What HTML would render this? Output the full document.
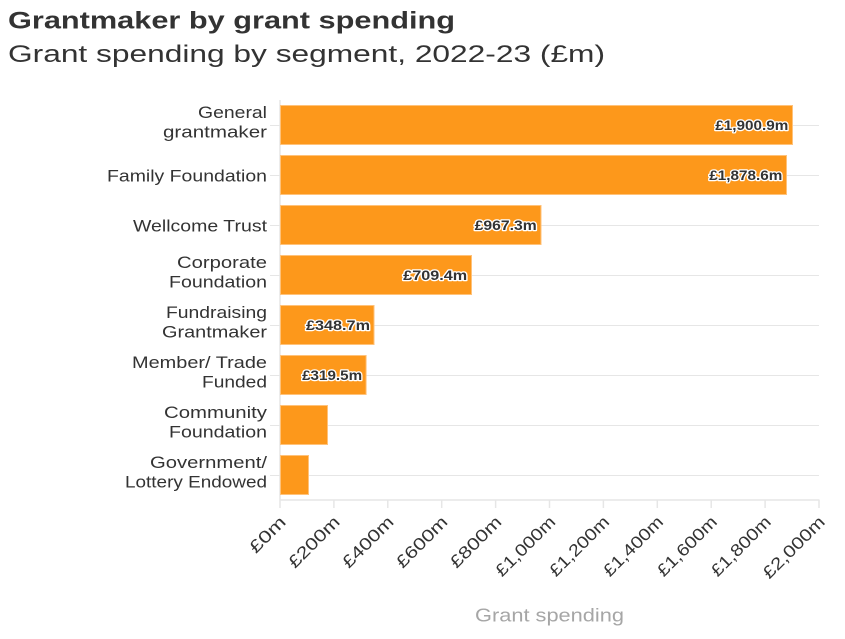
<!DOCTYPE html>
<html>
<head>
<meta charset="utf-8">
<style>
  html, body { margin:0; padding:0; background:#ffffff; }
  svg { display:block; font-family:"Liberation Sans", Arial, sans-serif; }
</style>
</head>
<body>
<svg width="845" height="639" viewBox="0 0 845 639" xmlns="http://www.w3.org/2000/svg">
  <rect x="0" y="0" width="845" height="639" fill="#ffffff"/>

  <!-- Titles -->
  <text x="8" y="28.5" font-size="24" font-weight="bold" fill="#333333" textLength="447" lengthAdjust="spacingAndGlyphs">Grantmaker by grant spending</text>
  <text x="8" y="62" font-size="24" fill="#333333" textLength="597" lengthAdjust="spacingAndGlyphs">Grant spending by segment, 2022-23 (£m)</text>

  <!-- Gridlines (horizontal, at category centres) -->
  <g stroke="#e6e6e6" stroke-width="1">
    <line x1="270" y1="125.5" x2="819" y2="125.5"/>
    <line x1="270" y1="175.5" x2="819" y2="175.5"/>
    <line x1="270" y1="225.5" x2="819" y2="225.5"/>
    <line x1="270" y1="275.5" x2="819" y2="275.5"/>
    <line x1="270" y1="325.5" x2="819" y2="325.5"/>
    <line x1="270" y1="375.5" x2="819" y2="375.5"/>
    <line x1="270" y1="425.5" x2="819" y2="425.5"/>
    <line x1="270" y1="475.5" x2="819" y2="475.5"/>
  </g>
  <!-- Axis lines -->
  <g stroke="#e6e6e6" stroke-width="1.5">
    <line x1="280" y1="100" x2="280" y2="508"/>
    <line x1="280" y1="500" x2="819.5" y2="500"/>
    <line x1="333.9" y1="500" x2="333.9" y2="508"/>
    <line x1="387.8" y1="500" x2="387.8" y2="508"/>
    <line x1="441.7" y1="500" x2="441.7" y2="508"/>
    <line x1="495.6" y1="500" x2="495.6" y2="508"/>
    <line x1="549.5" y1="500" x2="549.5" y2="508"/>
    <line x1="603.4" y1="500" x2="603.4" y2="508"/>
    <line x1="657.3" y1="500" x2="657.3" y2="508"/>
    <line x1="711.2" y1="500" x2="711.2" y2="508"/>
    <line x1="765.1" y1="500" x2="765.1" y2="508"/>
    <line x1="819" y1="500" x2="819" y2="508"/>
  </g>

  <!-- Bars -->
  <g fill="#FD981B" stroke="#ffc27a" stroke-width="1">
    <rect x="280.5" y="105.5" width="512" height="39"/>
    <rect x="280.5" y="155.5" width="506" height="39"/>
    <rect x="280.5" y="205.5" width="260.5" height="39"/>
    <rect x="280.5" y="255.5" width="191" height="39"/>
    <rect x="280.5" y="305.5" width="93.5" height="39"/>
    <rect x="280.5" y="355.5" width="85.6" height="39"/>
    <rect x="280.5" y="405.5" width="47" height="39"/>
    <rect x="280.5" y="455.5" width="28" height="39"/>
  </g>

  <!-- Data labels -->
  <g font-size="14" font-weight="bold" fill="#333333" stroke="#ffffff" stroke-width="2.5" stroke-linejoin="round" paint-order="stroke" text-anchor="end">
    <text x="788.3" y="130" textLength="73" lengthAdjust="spacingAndGlyphs">£1,900.9m</text>
    <text x="782.3" y="180" textLength="73" lengthAdjust="spacingAndGlyphs">£1,878.6m</text>
    <text x="536.7" y="230" textLength="62" lengthAdjust="spacingAndGlyphs">£967.3m</text>
    <text x="467.2" y="280" textLength="64" lengthAdjust="spacingAndGlyphs">£709.4m</text>
    <text x="370" y="330" textLength="64" lengthAdjust="spacingAndGlyphs">£348.7m</text>
    <text x="362.1" y="380" textLength="60" lengthAdjust="spacingAndGlyphs">£319.5m</text>
  </g>

  <!-- Category labels -->
  <g font-size="17" fill="#333333" text-anchor="end">
    <text x="267" y="118" textLength="69" lengthAdjust="spacingAndGlyphs">General</text>
    <text x="267" y="137.5" textLength="104" lengthAdjust="spacingAndGlyphs">grantmaker</text>

    <text x="267" y="181.5" textLength="160" lengthAdjust="spacingAndGlyphs">Family Foundation</text>

    <text x="267" y="231.5" textLength="134" lengthAdjust="spacingAndGlyphs">Wellcome Trust</text>

    <text x="267" y="268" textLength="90" lengthAdjust="spacingAndGlyphs">Corporate</text>
    <text x="267" y="287.5" textLength="98" lengthAdjust="spacingAndGlyphs">Foundation</text>

    <text x="267" y="318" textLength="101" lengthAdjust="spacingAndGlyphs">Fundraising</text>
    <text x="267" y="337.5" textLength="105" lengthAdjust="spacingAndGlyphs">Grantmaker</text>

    <text x="267" y="368" textLength="135" lengthAdjust="spacingAndGlyphs">Member/ Trade</text>
    <text x="267" y="387.5" textLength="65" lengthAdjust="spacingAndGlyphs">Funded</text>

    <text x="267" y="418" textLength="103" lengthAdjust="spacingAndGlyphs">Community</text>
    <text x="267" y="437.5" textLength="98" lengthAdjust="spacingAndGlyphs">Foundation</text>

    <text x="267" y="468" textLength="117" lengthAdjust="spacingAndGlyphs">Government/</text>
    <text x="267" y="487.5" textLength="142" lengthAdjust="spacingAndGlyphs">Lottery Endowed</text>
  </g>

  <!-- X tick labels (rotated -45) -->
  <g font-size="17" fill="#333333" text-anchor="end">
    <text transform="translate(287,523) rotate(-45)" textLength="44" lengthAdjust="spacingAndGlyphs">£0m</text>
    <text transform="translate(340.9,523) rotate(-45)" textLength="65" lengthAdjust="spacingAndGlyphs">£200m</text>
    <text transform="translate(394.8,523) rotate(-45)" textLength="65" lengthAdjust="spacingAndGlyphs">£400m</text>
    <text transform="translate(448.7,523) rotate(-45)" textLength="65" lengthAdjust="spacingAndGlyphs">£600m</text>
    <text transform="translate(502.6,523) rotate(-45)" textLength="65" lengthAdjust="spacingAndGlyphs">£800m</text>
    <text transform="translate(556.5,523) rotate(-45)" textLength="77" lengthAdjust="spacingAndGlyphs">£1,000m</text>
    <text transform="translate(610.4,523) rotate(-45)" textLength="77" lengthAdjust="spacingAndGlyphs">£1,200m</text>
    <text transform="translate(664.3,523) rotate(-45)" textLength="77" lengthAdjust="spacingAndGlyphs">£1,400m</text>
    <text transform="translate(718.2,523) rotate(-45)" textLength="77" lengthAdjust="spacingAndGlyphs">£1,600m</text>
    <text transform="translate(772.1,523) rotate(-45)" textLength="77" lengthAdjust="spacingAndGlyphs">£1,800m</text>
    <text transform="translate(826,523) rotate(-45)" textLength="80" lengthAdjust="spacingAndGlyphs">£2,000m</text>
  </g>

  <!-- Axis title -->
  <text x="475" y="621.5" font-size="18" fill="#a6a6a6" textLength="149" lengthAdjust="spacingAndGlyphs">Grant spending</text>
</svg>
</body>
</html>
